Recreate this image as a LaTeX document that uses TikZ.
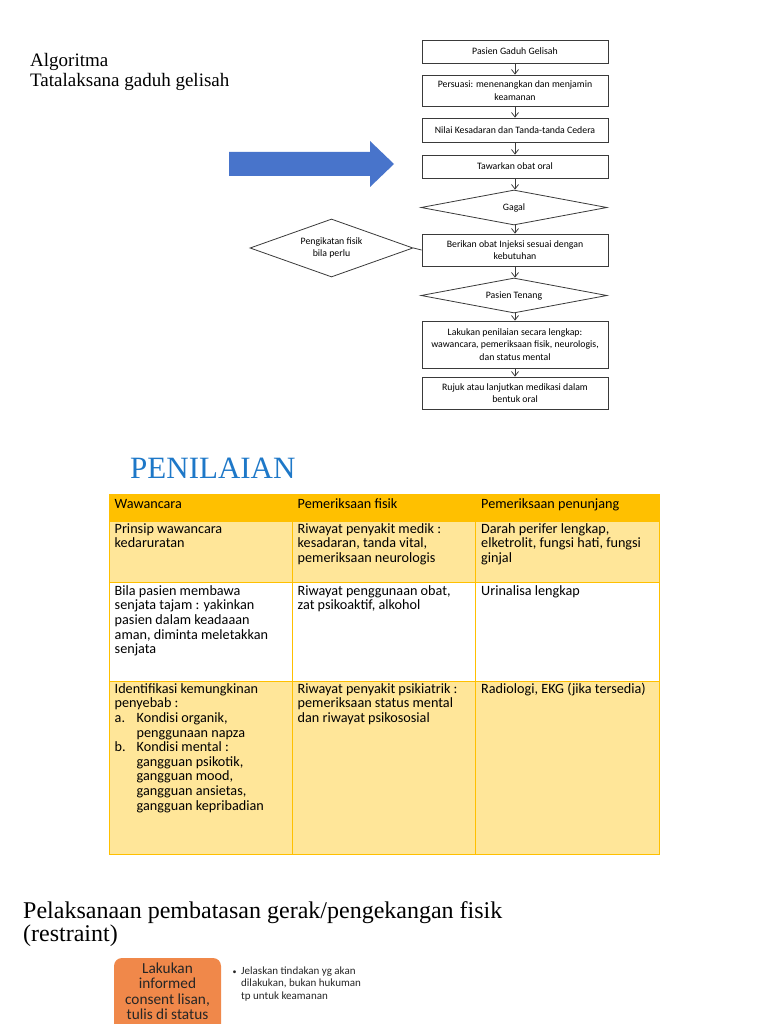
\documentclass[tikz,border=0pt]{standalone}
\usepackage{fontspec}
\setmainfont{Liberation Serif}
\newfontfamily\calfont{Carlito}
\usetikzlibrary{shapes.geometric,arrows.meta}
\definecolor{flowline}{HTML}{3A3A3A}
\definecolor{hdr}{HTML}{FFC000}
\definecolor{rowfill}{HTML}{FFE699}
\definecolor{bluearrow}{HTML}{4874CB}
\definecolor{penblue}{HTML}{1E78C8}
\definecolor{orangebox}{HTML}{F0884A}
\newcommand{\flowfont}{\calfont\fontsize{9.8}{12.5}\selectfont}
\newcommand{\tabfont}{\calfont\fontsize{14.2}{14.6}\selectfont}
\newcommand{\tstrut}{\rule{0pt}{11pt}}
\begin{document}
\begin{tikzpicture}[x=1pt,y=-1pt,
  fbox/.style={draw=flowline,line width=0.8pt,minimum width=186pt,inner sep=0pt,align=center,font=\flowfont,text=black},
  fdiam/.style={draw=flowline,line width=0.8pt,diamond,shape aspect=5,inner sep=0pt,align=center,font=\flowfont,text=black},
  farrow/.style={draw=flowline,line width=0.75pt,-{Straight Barb[length=4.5pt,width=7pt]}},
  tcell/.style={anchor=north west,inner sep=0pt,align=left,font=\tabfont,text=black},
  tline/.style={draw=hdr,line width=1pt},
  serifline/.style={anchor=base west,inner sep=0pt}
]
\useasboundingbox (0,0) rectangle (768,1024);
\fill[white] (0,0) rectangle (768,1024);

% titles
\node[serifline,font=\fontsize{19}{20}\selectfont] (t1) at (30,67) {Algoritma};
\node[serifline,font=\fontsize{19}{20}\selectfont] (t2) at (30,87) {Tatalaksana gaduh gelisah};

% blue arrow
\fill[bluearrow] (229,152) -- (370,152) -- (370,141) -- (394,164) -- (370,187) -- (370,176) -- (229,176) -- cycle;

% flowchart
\node[fbox,minimum height=23pt] (b1) at (515,51.5) {Pasien Gaduh Gelisah};
\node[fbox,minimum height=31pt] (b2) at (515,90.5) {Persuasi: menenangkan dan menjamin\\keamanan};
\node[fbox,minimum height=24pt] (b3) at (515,130) {Nilai Kesadaran dan Tanda-tanda Cedera};
\node[fbox,minimum height=23pt] (b4) at (515,166.5) {Tawarkan obat oral};
\node[fdiam,minimum width=186pt,minimum height=35pt] (d1) at (514,207.5) {Gagal};
\node[fbox,minimum height=32pt] (b5) at (515,250) {Berikan obat Injeksi sesuai dengan\\kebutuhan};
\node[fdiam,shape aspect=2.8,minimum width=163pt,minimum height=58pt] (d2) at (331.5,248) {Pengikatan fisik\\bila perlu};
\node[fdiam,minimum width=186pt,minimum height=35pt] (d3) at (514,295.5) {Pasien Tenang};
\node[fbox,minimum height=47pt] (b6) at (515,344.5) {Lakukan penilaian secara lengkap:\\wawancara, pemeriksaan fisik, neurologis,\\dan status mental};
\node[fbox,minimum height=32pt] (b7) at (515,393) {Rujuk atau lanjutkan medikasi dalam\\bentuk oral};

\draw[farrow] (b1) -- (b2);
\draw[farrow] (b2) -- (b3);
\draw[farrow] (b3) -- (b4);
\draw[farrow] (b4.south) -- (b4.south |- d1.north);
\draw[farrow] (b5.north |- d1.south) -- (b5.north);
\draw[farrow] (b5.south) -- (b5.south |- d3.north);
\draw[farrow] (b6.north |- d3.south) -- (b6.north);
\draw[farrow] (b6) -- (b7);
\draw[draw=flowline,line width=0.8pt] (b5.west) -- (d2.east);

% PENILAIAN
\node[serifline,font=\fontsize{31}{32}\selectfont,text=penblue] (pen) at (130,478) {PENILAIAN};

% table
\fill[hdr] (109,494.5) rectangle (659,521);
\fill[rowfill] (109,521) rectangle (659,582);
\fill[rowfill] (109,681) rectangle (659,854);
\draw[tline] (109,494.5) rectangle (659,854);
\draw[tline] (109,521) -- (659,521);
\draw[tline] (109,582) -- (659,582);
\draw[tline] (109,681) -- (659,681);
\draw[tline] (292,494.5) -- (292,854);
\draw[tline] (475,494.5) -- (475,854);

\node[tcell] (h1) at (114.5,497) {\tstrut Wawancara};
\node[tcell] (h2) at (297.5,497) {\tstrut Pemeriksaan fisik};
\node[tcell] (h3) at (481,497) {\tstrut Pemeriksaan penunjang};

\node[tcell] (c11) at (114.5,522) {\tstrut Prinsip wawancara\\kedaruratan};
\node[tcell] (c12) at (297.5,522) {\tstrut Riwayat penyakit medik :\\kesadaran, tanda vital,\\pemeriksaan neurologis};
\node[tcell] (c13) at (481,522) {\tstrut Darah perifer lengkap,\\elketrolit, fungsi hati, fungsi\\ginjal};

\node[tcell] (c21) at (114.5,584) {\tstrut Bila pasien membawa\\senjata tajam : yakinkan\\pasien dalam keadaaan\\aman, diminta meletakkan\\senjata};
\node[tcell] (c22) at (297.5,584) {\tstrut Riwayat penggunaan obat,\\zat psikoaktif, alkohol};
\node[tcell] (c23) at (481,584) {\tstrut Urinalisa lengkap};

\node[tcell] (c31) at (114.5,682) {\tstrut Identifikasi kemungkinan\\penyebab :\\\makebox[22pt][l]{a.}Kondisi organik,\\\hspace*{22pt}penggunaan napza\\\makebox[22pt][l]{b.}Kondisi mental :\\\hspace*{22pt}gangguan psikotik,\\\hspace*{22pt}gangguan mood,\\\hspace*{22pt}gangguan ansietas,\\\hspace*{22pt}gangguan kepribadian};
\node[tcell] (c32) at (297.5,682) {\tstrut Riwayat penyakit psikiatrik :\\pemeriksaan status mental\\dan riwayat psikososial};
\node[tcell] (c33) at (481,682) {\tstrut Radiologi, EKG (jika tersedia)};

% restraint section
\node[serifline,font=\fontsize{24}{24}\selectfont] (r1) at (23,918) {Pelaksanaan pembatasan gerak/pengekangan fisik};
\node[serifline,font=\fontsize{24}{24}\selectfont] (r2) at (23,941) {(restraint)};

\begin{scope}
\clip (0,0) rectangle (768,1024);
\fill[orangebox,rounded corners=8pt] (114,958) rectangle (221,1070);
\node[anchor=north,inner sep=0pt,align=center,font=\calfont\fontsize{15.3}{15.5}\selectfont,text=black!85] (ob) at (167.5,961) {\rule{0pt}{12pt}Lakukan\\informed\\consent lisan,\\tulis di status};
\end{scope}

\node[anchor=base west,inner sep=0pt,font=\calfont\fontsize{8}{10}\selectfont,text=black!85] (bul) at (232.5,974) {•};
\node[anchor=north west,inner sep=0pt,align=left,font=\calfont\fontsize{11}{12.5}\selectfont,text=black!85] (btxt) at (241,965) {\rule{0pt}{9pt}Jelaskan tindakan yg akan\\dilakukan, bukan hukuman\\tp untuk keamanan};
\end{tikzpicture}
\end{document}
